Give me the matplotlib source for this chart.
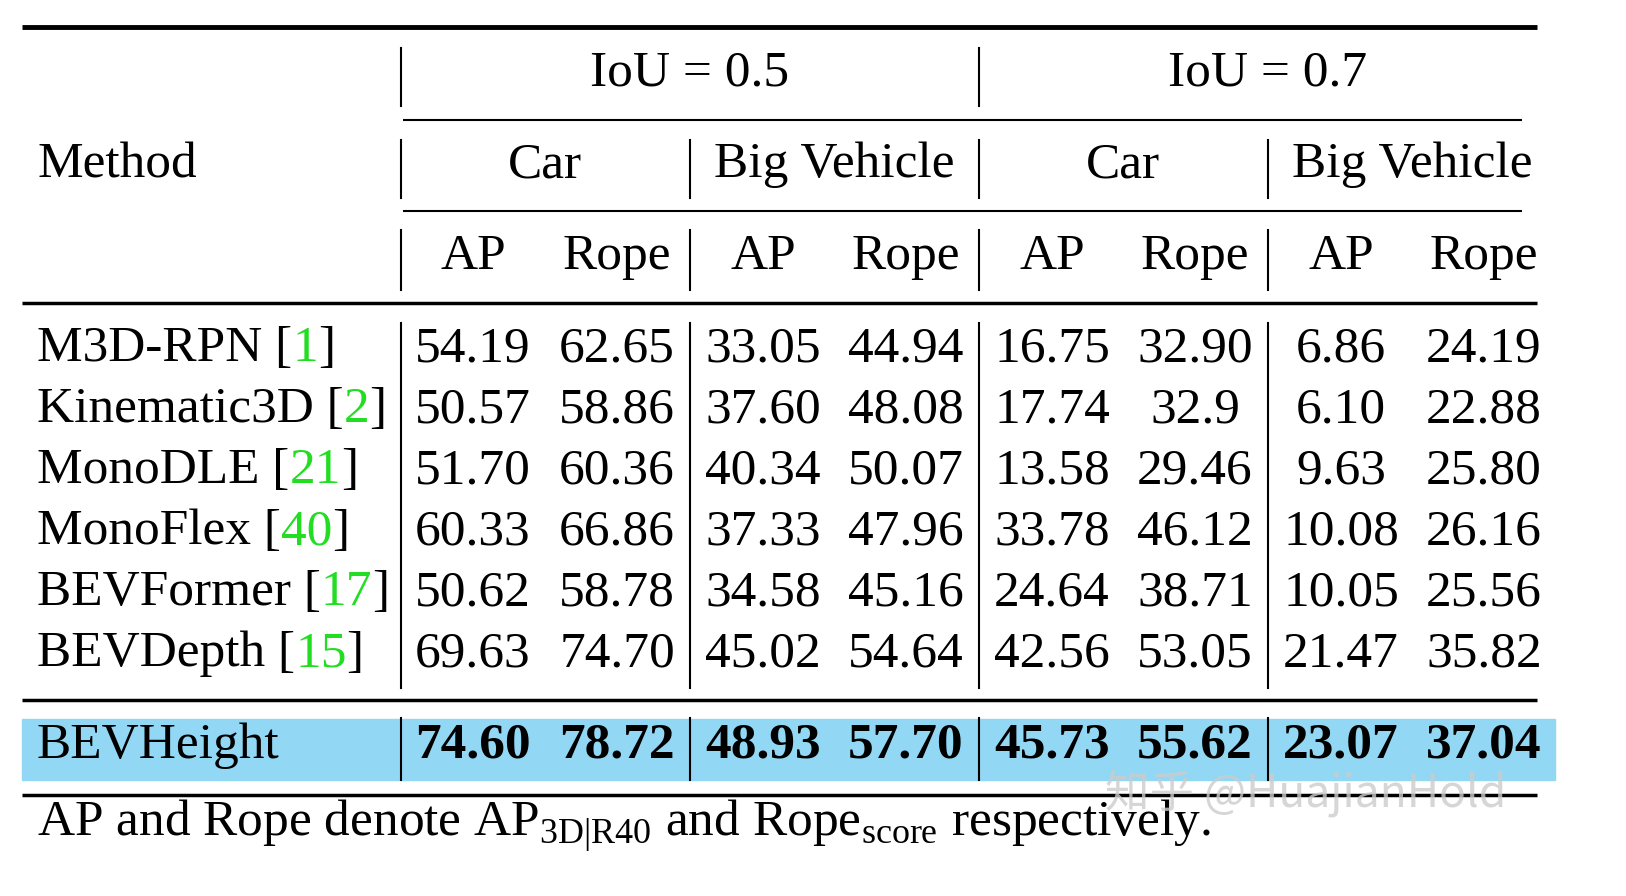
import matplotlib
matplotlib.use("Agg")
import matplotlib.pyplot as plt
from matplotlib.patches import Rectangle

plt.rcParams['font.family'] = ['Liberation Serif', 'DejaVu Serif']
plt.rcParams['mathtext.fontset'] = 'custom'
plt.rcParams['mathtext.rm'] = 'Liberation Serif'

methods = ["M3D-RPN", "Kinematic3D", "MonoDLE", "MonoFlex", "BEVFormer", "BEVDepth"]
cites = ["1", "2", "21", "40", "17", "15"]
values = [
    ["54.19", "62.65", "33.05", "44.94", "16.75", "32.90", "6.86", "24.19"],
    ["50.57", "58.86", "37.60", "48.08", "17.74", "32.9", "6.10", "22.88"],
    ["51.70", "60.36", "40.34", "50.07", "13.58", "29.46", "9.63", "25.80"],
    ["60.33", "66.86", "37.33", "47.96", "33.78", "46.12", "10.08", "26.16"],
    ["50.62", "58.78", "34.58", "45.16", "24.64", "38.71", "10.05", "25.56"],
    ["69.63", "74.70", "45.02", "54.64", "42.56", "53.05", "21.47", "35.82"],
]
ours_name = "BEVHeight"
ours = ["74.60", "78.72", "48.93", "57.70", "45.73", "55.62", "23.07", "37.04"]
iou_labels = ["IoU = 0.5", "IoU = 0.7"]
class_labels = ["Car", "Big Vehicle", "Car", "Big Vehicle"]
metric_labels = ["AP", "Rope"] * 4

fig = plt.figure(figsize=(16.26, 8.96), dpi=100)
ax = fig.add_axes([0, 0, 1, 1])
ax.set_xlim(0, 1626); ax.set_ylim(896, 0); ax.axis('off')
FS = 37
col_x = [473, 617, 763, 906, 1052, 1195, 1341, 1484]
row_y = [349, 410, 471, 532, 593, 654]

ax.add_patch(Rectangle((22, 719), 1533, 61, color='#92d8f5', zorder=0))
for y, lw, x0, x1 in [(27, 3.5, 22, 1537), (120, 1.5, 403, 1522), (211, 1.5, 403, 1522),
                      (303, 2.5, 22, 1537), (700, 2.5, 22, 1537), (795, 2.5, 22, 1537)]:
    ax.plot([x0, x1], [y, y], color='black', lw=lw, solid_capstyle='butt')

def vl(x, y0, y1):
    ax.plot([x, x], [y0, y1], color='black', lw=1.5)
for (y0, y1) in [(48, 106), (140, 198), (230, 290), (323, 688), (718, 780)]:
    vl(401, y0, y1); vl(979, y0, y1)
for (y0, y1) in [(140, 198), (230, 290), (323, 688), (718, 780)]:
    vl(690, y0, y1); vl(1268, y0, y1)

ax.text(37, 165, "Method", fontsize=FS, va='center', ha='left')
for lab, x in zip(iou_labels, [690, 1268]):
    ax.text(x, 73, lab, fontsize=FS, va='center', ha='center')
for lab, x in zip(class_labels, [545, 834, 1123, 1412]):
    ax.text(x, 165, lab, fontsize=FS, va='center', ha='center')
for lab, x in zip(metric_labels, col_x):
    ax.text(x, 257, lab, fontsize=FS, va='center', ha='center')

fig.canvas.draw()
r = fig.canvas.get_renderer()
def pieces(x, y, parts):
    for s, c in parts:
        t = ax.text(x, y, s, fontsize=FS, va='center', ha='left', color=c)
        bb = t.get_window_extent(renderer=r)
        x += bb.width
for m, c, y, vals in zip(methods, cites, row_y, values):
    pieces(37, y, [(m + " [", 'black'), (c, '#22dd22'), ("]", 'black')])
    for v, x in zip(vals, col_x):
        ax.text(x, y, v, fontsize=FS, va='center', ha='center')
ax.text(37, 746, ours_name, fontsize=FS, va='center', ha='left')
for v, x in zip(ours, col_x):
    ax.text(x, 746, v, fontsize=FS, va='center', ha='center', fontweight='bold')

ax.text(37, 826, r"AP and Rope denote AP$_{\mathrm{3D|R40}}$ and Rope$_{\mathrm{score}}$ respectively.",
        fontsize=FS, va='center', ha='left')
ax.text(1105, 793, "知乎 @HuajianHold", fontsize=32, va='center', ha='left', color='#cccccc',
        family=['Noto Sans CJK SC', 'DejaVu Sans'], alpha=0.8)
fig.savefig("out.png", dpi=100)
